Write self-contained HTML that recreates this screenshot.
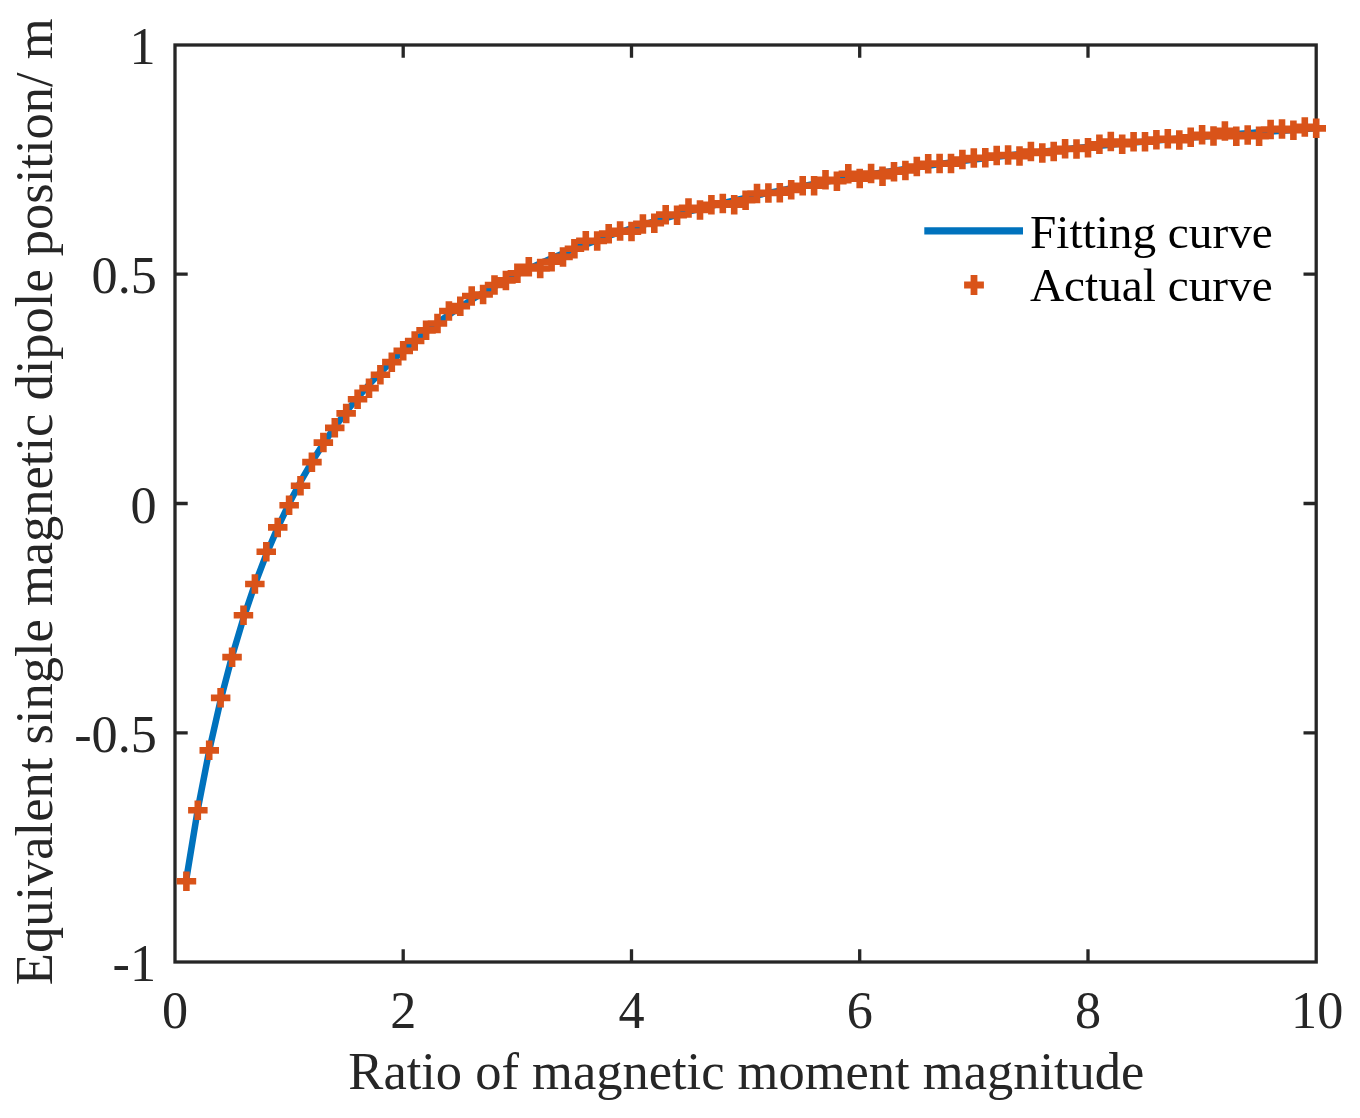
<!DOCTYPE html>
<html><head><meta charset="utf-8"><title>Fitting curve</title>
<style>
html,body{margin:0;padding:0;background:#fff;}
body{width:1360px;height:1118px;overflow:hidden;}
svg{display:block;}
text{font-family:"Liberation Serif","Times New Roman",serif;}
.t{font-size:52.2px;fill:#262626;}
.l{font-size:47.25px;fill:#000;}
.a{font-size:52.5px;fill:#262626;}
</style></head><body>
<svg width="1360" height="1118" viewBox="0 0 1360 1118">
<rect width="1360" height="1118" fill="#fff"/>
<rect x="175.0" y="45.0" width="1141.2" height="917.0" fill="none" stroke="#262626" stroke-width="3.3"/>
<path d="M403.2 962.0v-12.7M403.2 45.0v12.7M631.5 962.0v-12.7M631.5 45.0v12.7M859.7 962.0v-12.7M859.7 45.0v12.7M1088.0 962.0v-12.7M1088.0 45.0v12.7M175.0 732.8h12.7M1316.2 732.8h-12.7M175.0 503.5h12.7M1316.2 503.5h-12.7M175.0 274.2h12.7M1316.2 274.2h-12.7" fill="none" stroke="#262626" stroke-width="3.3"/>
<polyline points="186.41,878.64 197.82,809.17 209.24,750.38 220.65,700.00 232.06,656.33 243.47,618.12 254.88,584.41 266.30,554.44 277.71,527.63 289.12,503.50 300.53,481.67 311.94,461.82 323.36,443.70 334.77,427.08 346.18,411.80 357.59,397.69 369.00,384.63 380.42,372.50 391.83,361.21 403.24,350.67 414.65,340.81 426.06,331.56 437.48,322.88 448.89,314.71 460.30,307.00 471.71,299.72 483.12,292.84 494.54,286.32 505.95,280.13 517.36,274.25 528.77,268.66 540.18,263.33 551.60,258.26 563.01,253.41 574.42,248.78 585.83,244.35 597.24,240.11 608.66,236.04 620.07,232.14 631.48,228.40 642.89,224.80 654.30,221.35 665.72,218.02 677.13,214.81 688.54,211.73 699.95,208.75 711.36,205.88 722.78,203.10 734.19,200.42 745.60,197.83 757.01,195.33 768.42,192.90 779.84,190.56 791.25,188.28 802.66,186.08 814.07,183.94 825.48,181.87 836.90,179.85 848.31,177.90 859.72,176.00 871.13,174.15 882.54,172.36 893.96,170.62 905.37,168.92 916.78,167.27 928.19,165.66 939.60,164.09 951.02,162.56 962.43,161.08 973.84,159.62 985.25,158.21 996.66,156.83 1008.08,155.48 1019.49,154.17 1030.90,152.88 1042.31,151.63 1053.72,150.40 1065.14,149.20 1076.55,148.03 1087.96,146.89 1099.37,145.77 1110.78,144.67 1122.20,143.60 1133.61,142.55 1145.02,141.53 1156.43,140.52 1167.84,139.54 1179.26,138.57 1190.67,137.63 1202.08,136.70 1213.49,135.79 1224.90,134.90 1236.32,134.03 1247.73,133.17 1259.14,132.33 1270.55,131.51 1281.96,130.70 1293.38,129.91 1304.79,129.13 1316.20,128.36" fill="none" stroke="#0072BD" stroke-width="6.5" stroke-linejoin="round"/>
<path d="M176.7 881.3h19.5M186.4 871.6v19.5M188.1 810.3h19.5M197.8 800.5v19.5M199.5 750.4h19.5M209.2 740.6v19.5M210.9 697.9h19.5M220.6 688.1v19.5M222.3 657.1h19.5M232.1 647.4v19.5M233.7 615.3h19.5M243.5 605.6v19.5M245.1 584.0h19.5M254.9 574.3v19.5M256.5 551.8h19.5M266.3 542.1v19.5M268.0 527.4h19.5M277.7 517.7v19.5M279.4 505.3h19.5M289.1 495.6v19.5M290.8 485.7h19.5M300.5 475.9v19.5M302.2 462.1h19.5M311.9 452.4v19.5M313.6 442.6h19.5M323.4 432.8v19.5M325.0 427.9h19.5M334.8 418.1v19.5M336.4 413.4h19.5M346.2 403.7v19.5M347.8 399.2h19.5M357.6 389.4v19.5M359.3 388.1h19.5M369.0 378.4v19.5M370.7 374.8h19.5M380.4 365.1v19.5M382.1 362.1h19.5M391.8 352.4v19.5M393.5 350.9h19.5M403.2 341.1v19.5M404.9 341.0h19.5M414.7 331.3v19.5M416.3 330.4h19.5M426.1 320.6v19.5M427.7 323.5h19.5M437.5 313.7v19.5M439.1 311.0h19.5M448.9 301.3v19.5M450.6 306.1h19.5M460.3 296.4v19.5M462.0 296.0h19.5M471.7 286.3v19.5M473.4 294.5h19.5M483.1 284.8v19.5M484.8 285.0h19.5M494.5 275.3v19.5M496.2 280.4h19.5M505.9 270.7v19.5M507.6 273.2h19.5M517.4 263.5v19.5M519.0 266.9h19.5M528.8 257.1v19.5M530.4 268.5h19.5M540.2 258.8v19.5M541.8 261.8h19.5M551.6 252.0v19.5M553.3 256.9h19.5M563.0 247.2v19.5M564.7 248.8h19.5M574.4 239.0v19.5M576.1 240.8h19.5M585.8 231.1v19.5M587.5 241.0h19.5M597.2 231.3v19.5M598.9 233.6h19.5M608.7 223.9v19.5M610.3 230.9h19.5M620.1 221.2v19.5M621.7 231.6h19.5M631.5 221.8v19.5M633.1 223.9h19.5M642.9 214.2v19.5M644.6 223.1h19.5M654.3 213.4v19.5M656.0 214.6h19.5M665.7 204.9v19.5M667.4 215.1h19.5M677.1 205.4v19.5M678.8 207.9h19.5M688.5 198.2v19.5M690.2 209.9h19.5M700.0 200.2v19.5M701.6 204.9h19.5M711.4 195.1v19.5M713.0 203.4h19.5M722.8 193.7v19.5M724.4 204.8h19.5M734.2 195.1v19.5M735.9 200.3h19.5M745.6 190.6v19.5M747.3 193.5h19.5M757.0 183.8v19.5M758.7 192.9h19.5M768.4 183.2v19.5M770.1 192.8h19.5M779.8 183.0v19.5M781.5 189.9h19.5M791.2 180.1v19.5M792.9 185.7h19.5M802.7 175.9v19.5M804.3 185.7h19.5M814.1 176.0v19.5M815.7 179.9h19.5M825.5 170.1v19.5M827.1 181.2h19.5M836.9 171.4v19.5M838.6 173.8h19.5M848.3 164.0v19.5M850.0 178.6h19.5M859.7 168.8v19.5M861.4 173.6h19.5M871.1 163.8v19.5M872.8 176.2h19.5M882.5 166.4v19.5M884.2 171.8h19.5M894.0 162.1v19.5M895.6 170.4h19.5M905.4 160.7v19.5M907.0 166.6h19.5M916.8 156.8v19.5M918.4 163.7h19.5M928.2 153.9v19.5M929.9 163.5h19.5M939.6 153.7v19.5M941.3 163.6h19.5M951.0 153.8v19.5M952.7 159.5h19.5M962.4 149.7v19.5M964.1 158.0h19.5M973.8 148.3v19.5M975.5 157.8h19.5M985.3 148.1v19.5M986.9 155.5h19.5M996.7 145.8v19.5M998.3 155.1h19.5M1008.1 145.3v19.5M1009.7 156.1h19.5M1019.5 146.3v19.5M1021.2 151.6h19.5M1030.9 141.8v19.5M1032.6 152.9h19.5M1042.3 143.2v19.5M1044.0 151.4h19.5M1053.7 141.7v19.5M1055.4 148.8h19.5M1065.1 139.1v19.5M1066.8 148.9h19.5M1076.5 139.2v19.5M1078.2 147.8h19.5M1088.0 138.0v19.5M1089.6 144.3h19.5M1099.4 134.5v19.5M1101.0 141.6h19.5M1110.8 131.8v19.5M1112.4 144.3h19.5M1122.2 134.6v19.5M1123.9 141.8h19.5M1133.6 132.0v19.5M1135.3 141.8h19.5M1145.0 132.1v19.5M1146.7 139.6h19.5M1156.4 129.9v19.5M1158.1 138.8h19.5M1167.8 129.1v19.5M1169.5 140.1h19.5M1179.3 130.3v19.5M1180.9 137.2h19.5M1190.7 127.5v19.5M1192.3 134.8h19.5M1202.1 125.0v19.5M1203.7 136.1h19.5M1213.5 126.3v19.5M1215.2 130.9h19.5M1224.9 121.2v19.5M1226.6 136.2h19.5M1236.3 126.5v19.5M1238.0 135.0h19.5M1247.7 125.2v19.5M1249.4 136.3h19.5M1259.1 126.6v19.5M1260.8 129.5h19.5M1270.6 119.8v19.5M1272.2 128.9h19.5M1282.0 119.2v19.5M1283.6 130.3h19.5M1293.4 120.6v19.5M1295.0 126.9h19.5M1304.8 117.2v19.5M1306.5 128.4h19.5M1316.2 118.6v19.5" fill="none" stroke="#D95319" stroke-width="6.6"/>
<text class="t" x="175.0" y="1027.7" text-anchor="middle">0</text>
<text class="t" x="403.2" y="1027.7" text-anchor="middle">2</text>
<text class="t" x="631.5" y="1027.7" text-anchor="middle">4</text>
<text class="t" x="859.7" y="1027.7" text-anchor="middle">6</text>
<text class="t" x="1088.0" y="1027.7" text-anchor="middle">8</text>
<text class="t" x="1317.2" y="1027.7" text-anchor="middle">10</text>
<text class="t" x="156" y="981.2" text-anchor="end">-1</text>
<text class="t" x="156.8" y="752.0" text-anchor="end">-0.5</text>
<text class="t" x="156.5" y="522.7" text-anchor="end">0</text>
<text class="t" x="156.8" y="293.4" text-anchor="end">0.5</text>
<text class="t" x="155.5" y="64.2" text-anchor="end">1</text>
<text class="a" x="746.4" y="1089" text-anchor="middle">Ratio of magnetic moment magnitude</text>
<text class="a" transform="translate(52,501.8) rotate(-90)" text-anchor="middle">Equivalent single magnetic dipole position/ m</text>
<path d="M924.3 230.9H1023" stroke="#0072BD" stroke-width="7.1" fill="none"/>
<path d="M964.1 285h19.8M974 275.1v19.8" stroke="#D95319" stroke-width="6.8" fill="none"/>
<text class="l" x="1030" y="248">Fitting curve</text>
<text class="l" x="1030" y="301">Actual curve</text>
</svg>
</body></html>
